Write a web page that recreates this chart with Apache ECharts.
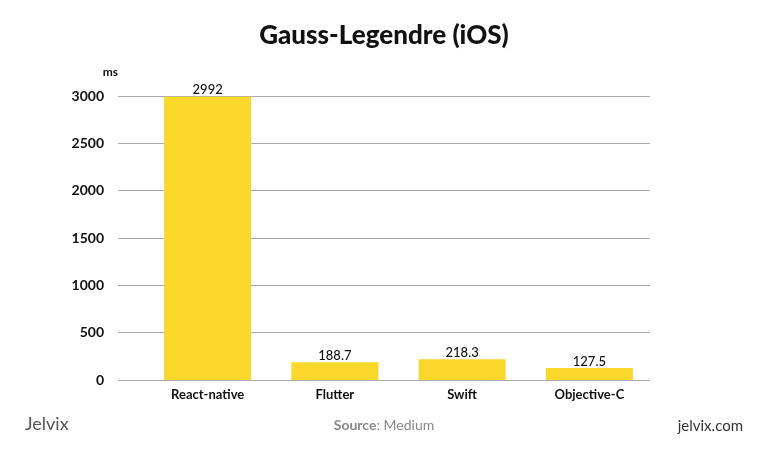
<!DOCTYPE html>
<html><head><meta charset="utf-8">
<script src="https://cdn.jsdelivr.net/npm/echarts@6/dist/echarts.min.js"></script>
<style>html,body{margin:0;padding:0;background:#fff}#c{width:768px;height:451px}</style>
</head><body><div id="c"></div>
<script>
const categories = ['React-native','Flutter','Swift','Objective-C'];
const values = [2992, 188.7, 218.3, 127.5];
const yTicks = [0,500,1000,1500,2000,2500,3000];
const chart = echarts.init(document.getElementById('c'));
chart.setOption({
  backgroundColor:'#fff',
  textStyle:{fontFamily:'Lato'},
  title:[
    {text:'Gauss-Legendre (iOS)',left:'center',top:18,textStyle:{fontSize:26,fontWeight:900,color:'#111',fontFamily:'Lato'}},
    {text:'{b|Source}: Medium',left:'center',top:413,textStyle:{fontSize:14,color:'#888',fontWeight:'normal',rich:{b:{fontSize:14,color:'#888',fontWeight:'bold'}}}},
    {text:'Jelvix',left:20,top:410,textStyle:{fontSize:18,color:'#555',fontWeight:'normal'}},
    {text:'jelvix.com',right:20,top:414,textStyle:{fontSize:15,color:'#333',fontWeight:'normal'}}
  ],
  grid:[{left:118,right:118,top:96,bottom:71},{left:144,right:115,top:96,bottom:71}],
  xAxis:[{type:'category',gridIndex:0,data:[''],show:false},
    {type:'category',gridIndex:1,data:categories,axisLine:{show:false},axisTick:{show:false},
    axisLabel:{fontWeight:'bold',fontSize:13,color:'#111',margin:8}}],
  yAxis:[{type:'value',gridIndex:0,min:0,max:3000,interval:500,name:'ms',nameLocation:'end',nameGap:18,
    nameTextStyle:{fontWeight:'bold',fontSize:12,color:'#111',align:'right'},
    axisLabel:{fontWeight:'bold',fontSize:14,color:'#111',margin:14,formatter:v=>String(v)},
    splitLine:{lineStyle:{color:'#aaa'}},axisLine:{show:false},axisTick:{show:false}},
    {type:'value',gridIndex:1,min:0,max:3000,interval:500,show:false}],
  series:[{type:'bar',xAxisIndex:1,yAxisIndex:1,data:values,barWidth:87,itemStyle:{color:'#F9D72B'},
    label:{show:true,position:'top',distance:0,color:'#111',fontSize:13,fontWeight:500}}]
});
</script></body></html>
